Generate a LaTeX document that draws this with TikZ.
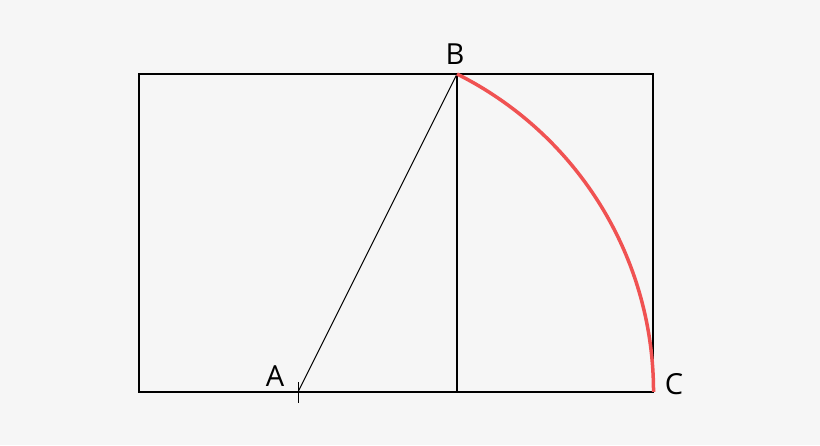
\documentclass[tikz,border=0pt]{standalone}
\usepackage{fontspec}
\setmainfont{Open Sans}
\definecolor{bg}{RGB}{246,246,246}
\definecolor{arcred}{RGB}{240,82,82}
\tikzset{
  frame/.style={line width=2pt, black},
  thin/.style={line width=1pt, black},
  lbl/.style={font=\fontsize{29}{33}\selectfont, inner sep=0pt}
}
\begin{document}
\begin{tikzpicture}[x=1pt,y=1pt]
\fill[bg] (0,0) rectangle (820,445);
\useasboundingbox (0,0) rectangle (820,445);
\coordinate (BL) at (139,53);
\coordinate (TR) at (653,371);
\coordinate (A) at (298,53);
\coordinate (B) at (457,371);
\coordinate (C) at (653,53);
\coordinate (Bbot) at (457,53);
\coordinate (Tt) at (298,63);
\coordinate (Tb) at (298,42);
\draw[frame] (BL) rectangle (TR);
\draw[frame] (B) -- (Bbot);
\draw[thin] (A) -- (B);
\draw[thin] (Tt) -- (Tb);
\draw[arcred, line width=3.5pt] (B) arc[start angle=63.435, end angle=0, radius=355.5];
\node[lbl] (la) at (275,69) {A};
\node[lbl] (lb) at (455,391) {B};
\node[lbl] (lc) at (674,61) {C};
\end{tikzpicture}
\end{document}
